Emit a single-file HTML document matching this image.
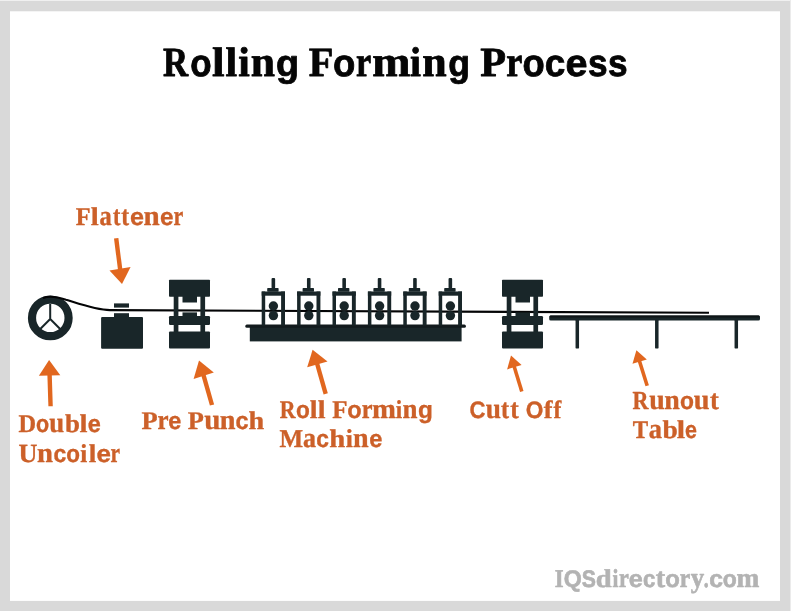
<!DOCTYPE html>
<html><head><meta charset="utf-8"><style>
html,body{margin:0;padding:0;background:#fff;}
svg{display:block;will-change:transform;}
text{font-family:"Liberation Serif",serif;font-weight:bold;text-rendering:geometricPrecision;}
</style></head><body>
<svg width="791" height="611" viewBox="0 0 791 611">
<rect x="0" y="0" width="791" height="611" fill="#d9d9d9"/>
<rect x="0" y="0" width="791" height="1" fill="#f0f0f0"/>
<rect x="790" y="0" width="1" height="611" fill="#ebebeb"/>
<rect x="10" y="11.3" width="770" height="589.6" fill="#ffffff"/>
<text transform="translate(163.11 76.20) scale(0.7986 0.9550)" font-size="43.5" fill="#050505" stroke="#050505" stroke-width="0.912" stroke-linejoin="round" >R</text><text transform="translate(190.34 76.20) scale(0.8027 0.8715)" font-size="43.5" fill="#050505" style='font-family:"Liberation Sans",sans-serif' stroke="#050505" stroke-width="0.956" stroke-linejoin="round" >o</text><text transform="translate(212.12 76.20) scale(1.0388 0.9476)" font-size="43.5" fill="#050505" stroke="#050505" stroke-width="0.805" stroke-linejoin="round" >l</text><text transform="translate(225.48 76.20) scale(0.9626 0.9476)" font-size="43.5" fill="#050505" stroke="#050505" stroke-width="0.838" stroke-linejoin="round" >l</text><text transform="translate(238.29 76.20) scale(0.9530 0.9542)" font-size="43.5" fill="#050505" stroke="#050505" stroke-width="0.839" stroke-linejoin="round" >i</text><text transform="translate(250.83 76.20) scale(1.0015 0.9855)" font-size="43.5" fill="#050505" stroke="#050505" stroke-width="0.805" stroke-linejoin="round" >n</text><text transform="translate(276.05 76.20) scale(0.8685 0.8622)" font-size="43.5" fill="#050505" style='font-family:"Liberation Sans",sans-serif' stroke="#050505" stroke-width="0.924" stroke-linejoin="round" >g</text><text transform="translate(308.81 76.20) scale(0.9264 0.9550)" font-size="43.5" fill="#050505" stroke="#050505" stroke-width="0.850" stroke-linejoin="round" >F</text><text transform="translate(333.08 76.20) scale(0.8372 0.8715)" font-size="43.5" fill="#050505" style='font-family:"Liberation Sans",sans-serif' stroke="#050505" stroke-width="0.936" stroke-linejoin="round" >o</text><text transform="translate(355.98 76.20) scale(0.7847 0.9804)" font-size="43.5" fill="#050505" stroke="#050505" stroke-width="0.906" stroke-linejoin="round" >r</text><text transform="translate(372.17 76.20) scale(1.0546 0.9855)" font-size="43.5" fill="#050505" stroke="#050505" stroke-width="0.784" stroke-linejoin="round" >m</text><text transform="translate(410.03 76.20) scale(0.9054 0.9542)" font-size="43.5" fill="#050505" stroke="#050505" stroke-width="0.860" stroke-linejoin="round" >i</text><text transform="translate(422.22 76.20) scale(1.0105 0.9855)" font-size="43.5" fill="#050505" stroke="#050505" stroke-width="0.802" stroke-linejoin="round" >n</text><text transform="translate(448.34 76.20) scale(0.8182 0.8622)" font-size="43.5" fill="#050505" style='font-family:"Liberation Sans",sans-serif' stroke="#050505" stroke-width="0.952" stroke-linejoin="round" >g</text><text transform="translate(480.28 76.20) scale(0.9717 0.9550)" font-size="43.5" fill="#050505" stroke="#050505" stroke-width="0.830" stroke-linejoin="round" >P</text><text transform="translate(506.33 76.20) scale(0.8312 0.9804)" font-size="43.5" fill="#050505" stroke="#050505" stroke-width="0.883" stroke-linejoin="round" >r</text><text transform="translate(522.48 76.20) scale(0.8329 0.8715)" font-size="43.5" fill="#050505" style='font-family:"Liberation Sans",sans-serif' stroke="#050505" stroke-width="0.939" stroke-linejoin="round" >o</text><text transform="translate(544.66 76.20) scale(0.8483 0.8715)" font-size="43.5" fill="#050505" style='font-family:"Liberation Sans",sans-serif' stroke="#050505" stroke-width="0.930" stroke-linejoin="round" >c</text><text transform="translate(565.56 76.20) scale(0.9092 0.8715)" font-size="43.5" fill="#050505" style='font-family:"Liberation Sans",sans-serif' stroke="#050505" stroke-width="0.898" stroke-linejoin="round" >e</text><text transform="translate(588.06 76.20) scale(0.8094 0.8708)" font-size="43.5" fill="#050505" style='font-family:"Liberation Sans",sans-serif' stroke="#050505" stroke-width="0.952" stroke-linejoin="round" >s</text><text transform="translate(607.96 76.20) scale(0.8094 0.8708)" font-size="43.5" fill="#050505" style='font-family:"Liberation Sans",sans-serif' stroke="#050505" stroke-width="0.952" stroke-linejoin="round" >s</text>
<circle cx="50.3" cy="317.9" r="18.3" fill="none" stroke="#192629" stroke-width="8.2"/>
<path d="M50.2 304 L50.2 319 M50.2 319 L38 331.2 M50.2 319 L62.4 331.2" stroke="#192629" stroke-width="2" fill="none"/>
<path d="M43 298 A21.2 21.2 0 0 1 50.3 296.7 C57 296.7 61 298 66 299.7 C79 303.7 96 310 110 310.1 L709 312.7" stroke="#030405" stroke-width="2.1" fill="none"/>
<g fill="#192629"><rect x="114" y="303.4" width="15" height="4.2"/><rect x="114" y="313.2" width="15" height="4.5"/><rect x="101.1" y="317" width="41.9" height="31.8" rx="1"/></g>
<g transform="translate(0,0)" fill="#192629"><rect x="169" y="279.7" width="41" height="17" rx="0.8"/><rect x="173.7" y="296" width="4.7" height="36"/><rect x="200.4" y="296" width="4.7" height="36"/><rect x="182.5" y="296" width="14.5" height="6.5"/><rect x="182.5" y="312.4" width="14.5" height="4"/><rect x="169" y="316" width="41" height="9" rx="1.2"/><rect x="169" y="331.6" width="41" height="16.9" rx="1"/></g>
<g transform="translate(333,0)" fill="#192629"><rect x="169" y="279.7" width="41" height="17" rx="0.8"/><rect x="173.7" y="296" width="4.7" height="36"/><rect x="200.4" y="296" width="4.7" height="36"/><rect x="182.5" y="296" width="14.5" height="6.5"/><rect x="182.5" y="312.4" width="14.5" height="4"/><rect x="169" y="316" width="41" height="9" rx="1.2"/><rect x="169" y="331.6" width="41" height="16.9" rx="1"/></g>
<rect x="249.8" y="327" width="211.8" height="14.4" fill="#192629"/>
<rect x="245.3" y="324.5" width="220.6" height="3.3" rx="1.5" fill="#121a1d"/>
<g fill="#192629"><rect x="261.7" y="291.5" width="3.5" height="34"/><rect x="281.10" y="291.5" width="3.9" height="34"/><rect x="261.7" y="291.5" width="23.3" height="4.2"/><rect x="267.20" y="288.1" width="11.4" height="3.6" rx="0.6"/><rect x="271.55" y="278" width="3.6" height="10.4" rx="1"/><circle cx="273.40" cy="306.0" r="4.7"/><circle cx="273.40" cy="315.6" r="4.7"/></g>
<g fill="#192629"><rect x="297.09999999999997" y="291.5" width="3.5" height="34"/><rect x="316.50" y="291.5" width="3.9" height="34"/><rect x="297.09999999999997" y="291.5" width="23.3" height="4.2"/><rect x="302.60" y="288.1" width="11.4" height="3.6" rx="0.6"/><rect x="306.95" y="278" width="3.6" height="10.4" rx="1"/><circle cx="308.80" cy="306.0" r="4.7"/><circle cx="308.80" cy="315.6" r="4.7"/></g>
<g fill="#192629"><rect x="332.5" y="291.5" width="3.5" height="34"/><rect x="351.90" y="291.5" width="3.9" height="34"/><rect x="332.5" y="291.5" width="23.3" height="4.2"/><rect x="338.00" y="288.1" width="11.4" height="3.6" rx="0.6"/><rect x="342.35" y="278" width="3.6" height="10.4" rx="1"/><circle cx="344.20" cy="306.0" r="4.7"/><circle cx="344.20" cy="315.6" r="4.7"/></g>
<g fill="#192629"><rect x="367.9" y="291.5" width="3.5" height="34"/><rect x="387.30" y="291.5" width="3.9" height="34"/><rect x="367.9" y="291.5" width="23.3" height="4.2"/><rect x="373.40" y="288.1" width="11.4" height="3.6" rx="0.6"/><rect x="377.75" y="278" width="3.6" height="10.4" rx="1"/><circle cx="379.60" cy="306.0" r="4.7"/><circle cx="379.60" cy="315.6" r="4.7"/></g>
<g fill="#192629"><rect x="403.29999999999995" y="291.5" width="3.5" height="34"/><rect x="422.70" y="291.5" width="3.9" height="34"/><rect x="403.29999999999995" y="291.5" width="23.3" height="4.2"/><rect x="408.80" y="288.1" width="11.4" height="3.6" rx="0.6"/><rect x="413.15" y="278" width="3.6" height="10.4" rx="1"/><circle cx="415.00" cy="306.0" r="4.7"/><circle cx="415.00" cy="315.6" r="4.7"/></g>
<g fill="#192629"><rect x="438.7" y="291.5" width="3.5" height="34"/><rect x="458.10" y="291.5" width="3.9" height="34"/><rect x="438.7" y="291.5" width="23.3" height="4.2"/><rect x="444.20" y="288.1" width="11.4" height="3.6" rx="0.6"/><rect x="448.55" y="278" width="3.6" height="10.4" rx="1"/><circle cx="450.40" cy="306.0" r="4.7"/><circle cx="450.40" cy="315.6" r="4.7"/></g>
<rect x="549.2" y="315.5" width="210.8" height="4.9" rx="1.5" fill="#192629"/>
<rect x="549.6" y="315.5" width="210" height="2" rx="1" fill="#0f1517"/>
<rect x="575.55" y="319" width="3.5" height="29.6" rx="1.2" fill="#192629"/>
<rect x="655.05" y="319" width="3.5" height="29.6" rx="1.2" fill="#192629"/>
<rect x="734.55" y="319" width="3.5" height="29.6" rx="1.2" fill="#192629"/>
<line x1="116.2" y1="238.2" x2="120.30" y2="270.78" stroke="#e1671f" stroke-width="4.4"/><polygon points="122,284 109.5,270.5 130.6,267.1" fill="#e1671f"/>
<line x1="50.6" y1="406.3" x2="49.54" y2="373.50" stroke="#e1671f" stroke-width="4.4"/><polygon points="49.1,360.1 38.9,375.7 60.3,375.3" fill="#e1671f"/>
<line x1="212" y1="405" x2="203.14" y2="373.83" stroke="#e1671f" stroke-width="4.4"/><polygon points="199,360.6 193.6,378.9 213.8,372.6" fill="#e1671f"/>
<line x1="325.7" y1="393.9" x2="316.78" y2="362.48" stroke="#e1671f" stroke-width="4.4"/><polygon points="312.6,349.8 307.2,367.3 327.5,361.5" fill="#e1671f"/>
<line x1="521.8" y1="391.6" x2="513.78" y2="365.23" stroke="#e1671f" stroke-width="3.6"/><polygon points="511,355.5 507.1,369.4 521.6,364.9" fill="#e1671f"/>
<line x1="647.2" y1="385.8" x2="639.07" y2="359.74" stroke="#e1671f" stroke-width="3.6"/><polygon points="636.4,350.3 632.5,363.8 646.8,359.5" fill="#e1671f"/>
<text transform="translate(75.76 224.92) scale(0.9518 0.9912)" font-size="25.5" fill="#cc6029" stroke="#cc6029" stroke-width="0.360" stroke-linejoin="round" >F</text><text transform="translate(90.71 224.92) scale(1.1299 0.9976)" font-size="25.5" fill="#cc6029" stroke="#cc6029" stroke-width="0.329" stroke-linejoin="round" >l</text><text transform="translate(99.59 224.92) scale(0.9574 1.0990)" font-size="25.5" fill="#cc6029" stroke="#cc6029" stroke-width="0.340" stroke-linejoin="round" >a</text><text transform="translate(112.92 224.92) scale(0.8722 1.0762)" font-size="25.5" fill="#cc6029" stroke="#cc6029" stroke-width="0.359" stroke-linejoin="round" >t</text><text transform="translate(121.30 224.92) scale(0.9224 1.0762)" font-size="25.5" fill="#cc6029" stroke="#cc6029" stroke-width="0.350" stroke-linejoin="round" >t</text><text transform="translate(130.09 224.92) scale(0.9867 0.9584)" font-size="25.5" fill="#cc6029" style='font-family:"Liberation Sans",sans-serif' stroke="#cc6029" stroke-width="0.360" stroke-linejoin="round" >e</text><text transform="translate(143.59 224.92) scale(1.1403 1.0944)" font-size="25.5" fill="#cc6029" stroke="#cc6029" stroke-width="0.313" stroke-linejoin="round" >n</text><text transform="translate(159.92 224.92) scale(0.9542 0.9584)" font-size="25.5" fill="#cc6029" style='font-family:"Liberation Sans",sans-serif' stroke="#cc6029" stroke-width="0.366" stroke-linejoin="round" >e</text><text transform="translate(173.59 224.92) scale(0.8577 1.0888)" font-size="25.5" fill="#cc6029" stroke="#cc6029" stroke-width="0.360" stroke-linejoin="round" >r</text>
<text transform="translate(18.55 432.22) scale(0.9538 0.9912)" font-size="25.5" fill="#cc6029" stroke="#cc6029" stroke-width="0.360" stroke-linejoin="round" >D</text><text transform="translate(35.94 432.22) scale(0.8429 0.9584)" font-size="25.5" fill="#cc6029" style='font-family:"Liberation Sans",sans-serif' stroke="#cc6029" stroke-width="0.389" stroke-linejoin="round" >o</text><text transform="translate(49.27 432.22) scale(1.0487 1.1235)" font-size="25.5" fill="#cc6029" stroke="#cc6029" stroke-width="0.322" stroke-linejoin="round" >u</text><text transform="translate(64.93 432.22) scale(1.0566 0.9976)" font-size="25.5" fill="#cc6029" stroke="#cc6029" stroke-width="0.341" stroke-linejoin="round" >b</text><text transform="translate(79.51 432.22) scale(1.1299 0.9976)" font-size="25.5" fill="#cc6029" stroke="#cc6029" stroke-width="0.329" stroke-linejoin="round" >l</text><text transform="translate(87.66 432.22) scale(0.9217 0.9584)" font-size="25.5" fill="#cc6029" style='font-family:"Liberation Sans",sans-serif' stroke="#cc6029" stroke-width="0.372" stroke-linejoin="round" >e</text>
<text transform="translate(18.52 462.22) scale(1.0294 1.0271)" font-size="25.5" fill="#cc6029" stroke="#cc6029" stroke-width="0.340" stroke-linejoin="round" >U</text><text transform="translate(37.10 462.22) scale(1.1250 1.0944)" font-size="25.5" fill="#cc6029" stroke="#cc6029" stroke-width="0.315" stroke-linejoin="round" >n</text><text transform="translate(53.57 462.22) scale(0.9044 0.9584)" font-size="25.5" fill="#cc6029" style='font-family:"Liberation Sans",sans-serif' stroke="#cc6029" stroke-width="0.376" stroke-linejoin="round" >c</text><text transform="translate(66.20 462.22) scale(0.8797 0.9584)" font-size="25.5" fill="#cc6029" style='font-family:"Liberation Sans",sans-serif' stroke="#cc6029" stroke-width="0.381" stroke-linejoin="round" >o</text><text transform="translate(80.32 462.22) scale(0.9836 1.0145)" font-size="25.5" fill="#cc6029" stroke="#cc6029" stroke-width="0.350" stroke-linejoin="round" >i</text><text transform="translate(88.64 462.22) scale(1.0649 0.9976)" font-size="25.5" fill="#cc6029" stroke="#cc6029" stroke-width="0.339" stroke-linejoin="round" >l</text><text transform="translate(96.56 462.22) scale(1.0191 0.9584)" font-size="25.5" fill="#cc6029" style='font-family:"Liberation Sans",sans-serif' stroke="#cc6029" stroke-width="0.354" stroke-linejoin="round" >e</text><text transform="translate(110.60 462.22) scale(0.8378 1.0888)" font-size="25.5" fill="#cc6029" stroke="#cc6029" stroke-width="0.363" stroke-linejoin="round" >r</text>
<text transform="translate(141.62 428.82) scale(1.0369 0.9912)" font-size="25.5" fill="#cc6029" stroke="#cc6029" stroke-width="0.345" stroke-linejoin="round" >P</text><text transform="translate(157.51 428.82) scale(0.9767 1.0888)" font-size="25.5" fill="#cc6029" stroke="#cc6029" stroke-width="0.339" stroke-linejoin="round" >r</text><text transform="translate(168.26 428.82) scale(0.9217 0.9584)" font-size="25.5" fill="#cc6029" style='font-family:"Liberation Sans",sans-serif' stroke="#cc6029" stroke-width="0.372" stroke-linejoin="round" >e</text><text transform="translate(187.82 428.82) scale(1.0369 0.9912)" font-size="25.5" fill="#cc6029" stroke="#cc6029" stroke-width="0.345" stroke-linejoin="round" >P</text><text transform="translate(204.23 428.82) scale(1.1403 1.1235)" font-size="25.5" fill="#cc6029" stroke="#cc6029" stroke-width="0.309" stroke-linejoin="round" >u</text><text transform="translate(219.72 428.82) scale(1.1097 1.0944)" font-size="25.5" fill="#cc6029" stroke="#cc6029" stroke-width="0.318" stroke-linejoin="round" >n</text><text transform="translate(235.46 428.82) scale(0.9205 0.9584)" font-size="25.5" fill="#cc6029" style='font-family:"Liberation Sans",sans-serif' stroke="#cc6029" stroke-width="0.373" stroke-linejoin="round" >c</text><text transform="translate(248.47 428.82) scale(1.1055 0.9976)" font-size="25.5" fill="#cc6029" stroke="#cc6029" stroke-width="0.333" stroke-linejoin="round" >h</text>
<text transform="translate(279.80 417.82) scale(0.8542 0.9912)" font-size="25.5" fill="#cc6029" stroke="#cc6029" stroke-width="0.379" stroke-linejoin="round" >R</text><text transform="translate(296.09 417.82) scale(0.8871 0.9584)" font-size="25.5" fill="#cc6029" style='font-family:"Liberation Sans",sans-serif' stroke="#cc6029" stroke-width="0.379" stroke-linejoin="round" >o</text><text transform="translate(309.73 417.82) scale(1.0974 0.9976)" font-size="25.5" fill="#cc6029" stroke="#cc6029" stroke-width="0.334" stroke-linejoin="round" >l</text><text transform="translate(317.63 417.82) scale(1.0974 0.9976)" font-size="25.5" fill="#cc6029" stroke="#cc6029" stroke-width="0.334" stroke-linejoin="round" >l</text><text transform="translate(332.35 417.82) scale(0.9806 0.9912)" font-size="25.5" fill="#cc6029" stroke="#cc6029" stroke-width="0.355" stroke-linejoin="round" >F</text><text transform="translate(347.35 417.82) scale(0.9239 0.9584)" font-size="25.5" fill="#cc6029" style='font-family:"Liberation Sans",sans-serif' stroke="#cc6029" stroke-width="0.372" stroke-linejoin="round" >o</text><text transform="translate(361.63 417.82) scale(0.9469 1.0888)" font-size="25.5" fill="#cc6029" stroke="#cc6029" stroke-width="0.344" stroke-linejoin="round" >r</text><text transform="translate(372.00 417.82) scale(1.1257 1.0944)" font-size="25.5" fill="#cc6029" stroke="#cc6029" stroke-width="0.315" stroke-linejoin="round" >m</text><text transform="translate(395.87 417.82) scale(0.9023 1.0145)" font-size="25.5" fill="#cc6029" stroke="#cc6029" stroke-width="0.365" stroke-linejoin="round" >i</text><text transform="translate(402.45 417.82) scale(1.0564 1.0944)" font-size="25.5" fill="#cc6029" stroke="#cc6029" stroke-width="0.325" stroke-linejoin="round" >n</text><text transform="translate(417.98 417.82) scale(0.9552 0.9575)" font-size="25.5" fill="#cc6029" style='font-family:"Liberation Sans",sans-serif' stroke="#cc6029" stroke-width="0.366" stroke-linejoin="round" >g</text>
<text transform="translate(279.55 447.32) scale(0.9804 1.0032)" font-size="25.5" fill="#cc6029" stroke="#cc6029" stroke-width="0.353" stroke-linejoin="round" >M</text><text transform="translate(303.04 447.32) scale(1.0180 1.0990)" font-size="25.5" fill="#cc6029" stroke="#cc6029" stroke-width="0.331" stroke-linejoin="round" >a</text><text transform="translate(316.28 447.32) scale(0.8964 0.9584)" font-size="25.5" fill="#cc6029" style='font-family:"Liberation Sans",sans-serif' stroke="#cc6029" stroke-width="0.377" stroke-linejoin="round" >c</text><text transform="translate(329.26 447.32) scale(1.1283 0.9976)" font-size="25.5" fill="#cc6029" stroke="#cc6029" stroke-width="0.329" stroke-linejoin="round" >h</text><text transform="translate(345.71 447.32) scale(0.9999 1.0145)" font-size="25.5" fill="#cc6029" stroke="#cc6029" stroke-width="0.348" stroke-linejoin="round" >i</text><text transform="translate(353.12 447.32) scale(1.1021 1.0944)" font-size="25.5" fill="#cc6029" stroke="#cc6029" stroke-width="0.319" stroke-linejoin="round" >n</text><text transform="translate(369.25 447.32) scale(0.9298 0.9584)" font-size="25.5" fill="#cc6029" style='font-family:"Liberation Sans",sans-serif' stroke="#cc6029" stroke-width="0.371" stroke-linejoin="round" >e</text>
<text transform="translate(469.47 417.82) scale(0.8667 0.9295)" font-size="25.5" fill="#cc6029" style='font-family:"Liberation Sans",sans-serif' stroke="#cc6029" stroke-width="0.390" stroke-linejoin="round" >C</text><text transform="translate(485.86 417.82) scale(1.0716 1.1235)" font-size="25.5" fill="#cc6029" stroke="#cc6029" stroke-width="0.319" stroke-linejoin="round" >u</text><text transform="translate(501.09 417.82) scale(0.9475 1.0762)" font-size="25.5" fill="#cc6029" stroke="#cc6029" stroke-width="0.346" stroke-linejoin="round" >t</text><text transform="translate(510.17 417.82) scale(0.9976 1.0762)" font-size="25.5" fill="#cc6029" stroke="#cc6029" stroke-width="0.338" stroke-linejoin="round" >t</text><text transform="translate(525.65 417.82) scale(0.8889 0.9295)" font-size="25.5" fill="#cc6029" style='font-family:"Liberation Sans",sans-serif' stroke="#cc6029" stroke-width="0.385" stroke-linejoin="round" >O</text><text transform="translate(543.78 417.82) scale(1.0346 0.9830)" font-size="25.5" fill="#cc6029" stroke="#cc6029" stroke-width="0.347" stroke-linejoin="round" >f</text><text transform="translate(553.60 417.82) scale(0.9177 0.9830)" font-size="25.5" fill="#cc6029" stroke="#cc6029" stroke-width="0.368" stroke-linejoin="round" >f</text>
<text transform="translate(632.60 408.82) scale(0.8652 1.0152)" font-size="25.5" fill="#cc6029" stroke="#cc6029" stroke-width="0.372" stroke-linejoin="round" >R</text><text transform="translate(649.15 408.82) scale(1.0945 1.1235)" font-size="25.5" fill="#cc6029" stroke="#cc6029" stroke-width="0.316" stroke-linejoin="round" >u</text><text transform="translate(664.33 408.82) scale(1.0945 1.0944)" font-size="25.5" fill="#cc6029" stroke="#cc6029" stroke-width="0.320" stroke-linejoin="round" >n</text><text transform="translate(680.08 408.82) scale(0.8944 0.9584)" font-size="25.5" fill="#cc6029" style='font-family:"Liberation Sans",sans-serif' stroke="#cc6029" stroke-width="0.378" stroke-linejoin="round" >o</text><text transform="translate(693.85 408.82) scale(1.1097 1.1235)" font-size="25.5" fill="#cc6029" stroke="#cc6029" stroke-width="0.313" stroke-linejoin="round" >u</text><text transform="translate(709.95 408.82) scale(1.0353 1.0762)" font-size="25.5" fill="#cc6029" stroke="#cc6029" stroke-width="0.332" stroke-linejoin="round" >t</text>
<text transform="translate(632.82 438.43) scale(0.9030 0.9912)" font-size="25.5" fill="#cc6029" stroke="#cc6029" stroke-width="0.370" stroke-linejoin="round" >T</text><text transform="translate(648.72 438.43) scale(1.0353 1.0990)" font-size="25.5" fill="#cc6029" stroke="#cc6029" stroke-width="0.328" stroke-linejoin="round" >a</text><text transform="translate(662.43 438.43) scale(1.0799 0.9976)" font-size="25.5" fill="#cc6029" stroke="#cc6029" stroke-width="0.337" stroke-linejoin="round" >b</text><text transform="translate(676.79 438.43) scale(1.1787 0.9976)" font-size="25.5" fill="#cc6029" stroke="#cc6029" stroke-width="0.322" stroke-linejoin="round" >l</text><text transform="translate(684.94 438.43) scale(0.8405 0.9584)" font-size="25.5" fill="#cc6029" style='font-family:"Liberation Sans",sans-serif' stroke="#cc6029" stroke-width="0.389" stroke-linejoin="round" >e</text>
<text transform="translate(554.74 586.80) scale(0.8726 0.9809)" font-size="26" fill="#b3b3b3" stroke="#b3b3b3" stroke-width="0.647" stroke-linejoin="round" >I</text><text transform="translate(563.65 586.80) scale(0.8912 0.9199)" font-size="26" fill="#b3b3b3" style='font-family:"Liberation Sans",sans-serif' stroke="#b3b3b3" stroke-width="0.663" stroke-linejoin="round" >Q</text><text transform="translate(581.79 586.80) scale(0.8153 0.9199)" font-size="26" fill="#b3b3b3" style='font-family:"Liberation Sans",sans-serif' stroke="#b3b3b3" stroke-width="0.692" stroke-linejoin="round" >S</text><text transform="translate(595.84 586.80) scale(1.0980 0.9867)" font-size="26" fill="#b3b3b3" stroke="#b3b3b3" stroke-width="0.576" stroke-linejoin="round" >d</text><text transform="translate(612.44 586.80) scale(0.8132 0.9867)" font-size="26" fill="#b3b3b3" stroke="#b3b3b3" stroke-width="0.667" stroke-linejoin="round" >i</text><text transform="translate(618.91 586.80) scale(0.8460 1.0557)" font-size="26" fill="#b3b3b3" stroke="#b3b3b3" stroke-width="0.631" stroke-linejoin="round" >r</text><text transform="translate(628.71 586.80) scale(0.9717 0.9292)" font-size="26" fill="#b3b3b3" style='font-family:"Liberation Sans",sans-serif' stroke="#b3b3b3" stroke-width="0.631" stroke-linejoin="round" >e</text><text transform="translate(643.03 586.80) scale(0.8594 0.9292)" font-size="26" fill="#b3b3b3" style='font-family:"Liberation Sans",sans-serif' stroke="#b3b3b3" stroke-width="0.671" stroke-linejoin="round" >c</text><text transform="translate(655.75 586.80) scale(1.0831 1.0589)" font-size="26" fill="#b3b3b3" stroke="#b3b3b3" stroke-width="0.560" stroke-linejoin="round" >t</text><text transform="translate(665.37 586.80) scale(0.9169 0.9292)" font-size="26" fill="#b3b3b3" style='font-family:"Liberation Sans",sans-serif' stroke="#b3b3b3" stroke-width="0.650" stroke-linejoin="round" >o</text><text transform="translate(679.77 586.80) scale(0.9044 1.0557)" font-size="26" fill="#b3b3b3" stroke="#b3b3b3" stroke-width="0.612" stroke-linejoin="round" >r</text><text transform="translate(690.74 586.80) scale(1.0326 1.0894)" font-size="26" fill="#b3b3b3" stroke="#b3b3b3" stroke-width="0.566" stroke-linejoin="round" >y</text><text transform="translate(703.83 586.80) scale(0.7592 1.0000)" font-size="26" fill="#b3b3b3" stroke="#b3b3b3" stroke-width="0.682" stroke-linejoin="round" >.</text><text transform="translate(709.23 586.80) scale(0.9541 0.9292)" font-size="26" fill="#b3b3b3" style='font-family:"Liberation Sans",sans-serif' stroke="#b3b3b3" stroke-width="0.637" stroke-linejoin="round" >c</text><text transform="translate(722.81 586.80) scale(0.8808 0.9292)" font-size="26" fill="#b3b3b3" style='font-family:"Liberation Sans",sans-serif' stroke="#b3b3b3" stroke-width="0.663" stroke-linejoin="round" >o</text><text transform="translate(736.56 586.80) scale(1.0529 1.0611)" font-size="26" fill="#b3b3b3" stroke="#b3b3b3" stroke-width="0.568" stroke-linejoin="round" >m</text>
</svg>
</body></html>
